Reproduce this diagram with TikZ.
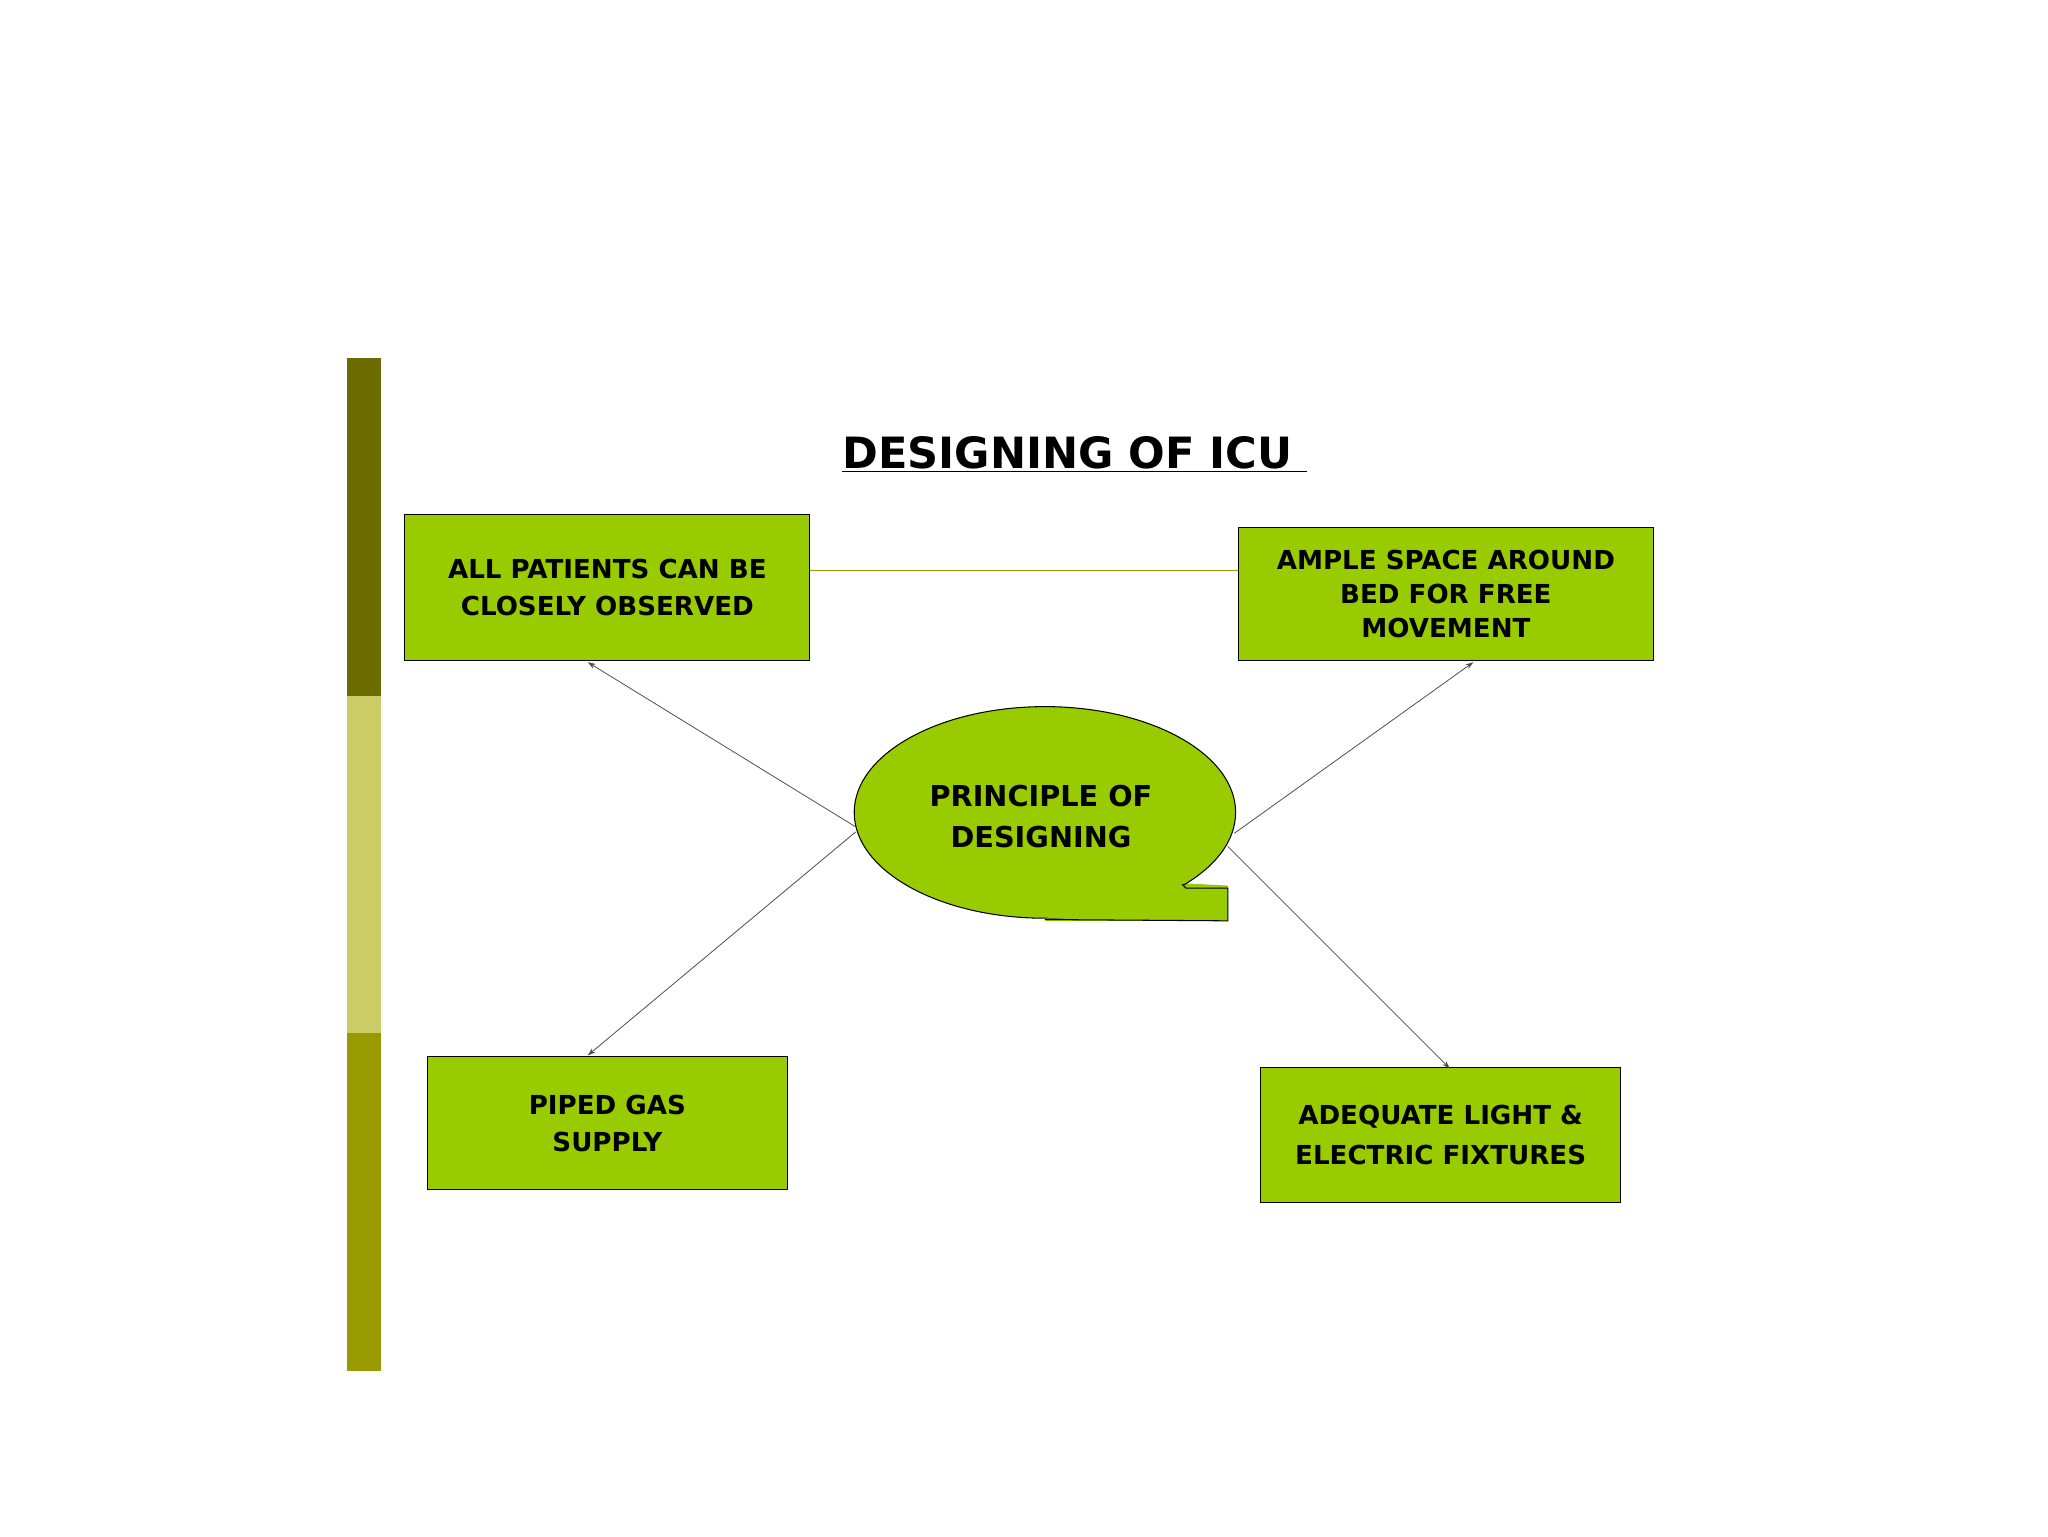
\documentclass[tikz,border=0pt]{standalone}
\usepackage{fontspec}
\setmainfont{DejaVu Sans}
\usetikzlibrary{shapes.geometric,arrows.meta}
\definecolor{gfill}{HTML}{99CC00}
\definecolor{barA}{HTML}{6B6B00}
\definecolor{barB}{HTML}{CCCC66}
\definecolor{barC}{HTML}{999900}
\begin{document}
\begin{tikzpicture}[x=1pt,y=-1pt,
  gbox/.style={draw=black,line width=0.8pt,fill=gfill,inner sep=0pt,align=center,
    font=\fontsize{20}{28}\selectfont\bfseries},
  arr/.style={draw=black!70,line width=0.6pt,-{Stealth[length=6pt,width=4pt]}}]
\useasboundingbox (0,0) rectangle (1568,1176);
\fill[white] (0,0) rectangle (1568,1176);
\fill[barA] (266,274) rectangle (292,533);
\fill[barB] (266,533) rectangle (292,791);
\fill[barC] (266,791) rectangle (292,1050);
\node (title) at (823,348) {\fontsize{33}{40}\selectfont\bfseries\underline{DESIGNING OF ICU\ }};
\node[gbox,minimum width=310,minimum height=112] (b1) at (465,450) {ALL PATIENTS CAN BE\\CLOSELY OBSERVED};
\node[gbox,minimum width=318,minimum height=102,font=\fontsize{20}{26}\selectfont\bfseries] (b2) at (1107,455) {AMPLE SPACE AROUND\\BED FOR FREE\\MOVEMENT};
\node[gbox,minimum width=276,minimum height=102] (b3) at (465,860) {PIPED GAS\\SUPPLY};
\node[gbox,minimum width=276,minimum height=103,font=\fontsize{20}{30}\selectfont\bfseries] (b4) at (1103,869) {ADEQUATE LIGHT \&\\ELECTRIC FIXTURES};
% callout
\fill[gfill] (902,676) -- (940,678) -- (940,705) -- (800,705) -- (830,690) -- cycle;
\node[draw=black,line width=0.8pt,fill=gfill,ellipse,minimum width=292,minimum height=162,inner sep=0pt] (c) at (800,622) {};
\fill[gfill] (900,672) -- (908,680) -- (940,680) -- (940,705) -- (800,703) -- (860,690) -- cycle;
\draw[line width=0.8pt] (905,677) -- (908,680) -- (940,680) -- (940,705) -- (800,704);
\node[font=\fontsize{22}{31}\selectfont\bfseries,align=center] (ct) at (797,625) {PRINCIPLE OF\\DESIGNING};
\draw[draw=barC,line width=1pt] (b1.east|-0,437) coordinate (l1) -- (b2.west|-0,437) coordinate (l2);
\coordinate (c1) at (655,633);
\coordinate (c2) at (655,637);
\coordinate (c3) at (945,638);
\coordinate (c4) at (940,648);
\coordinate (t1) at (450,507);
\coordinate (t2) at (450,808);
\coordinate (t3) at (1128,507);
\coordinate (t4) at (1110,818);
\draw[arr] (c1) -- (t1);
\draw[arr] (c2) -- (t2);
\draw[arr] (c3) -- (t3);
\draw[arr] (c4) -- (t4);
\end{tikzpicture}
\end{document}
